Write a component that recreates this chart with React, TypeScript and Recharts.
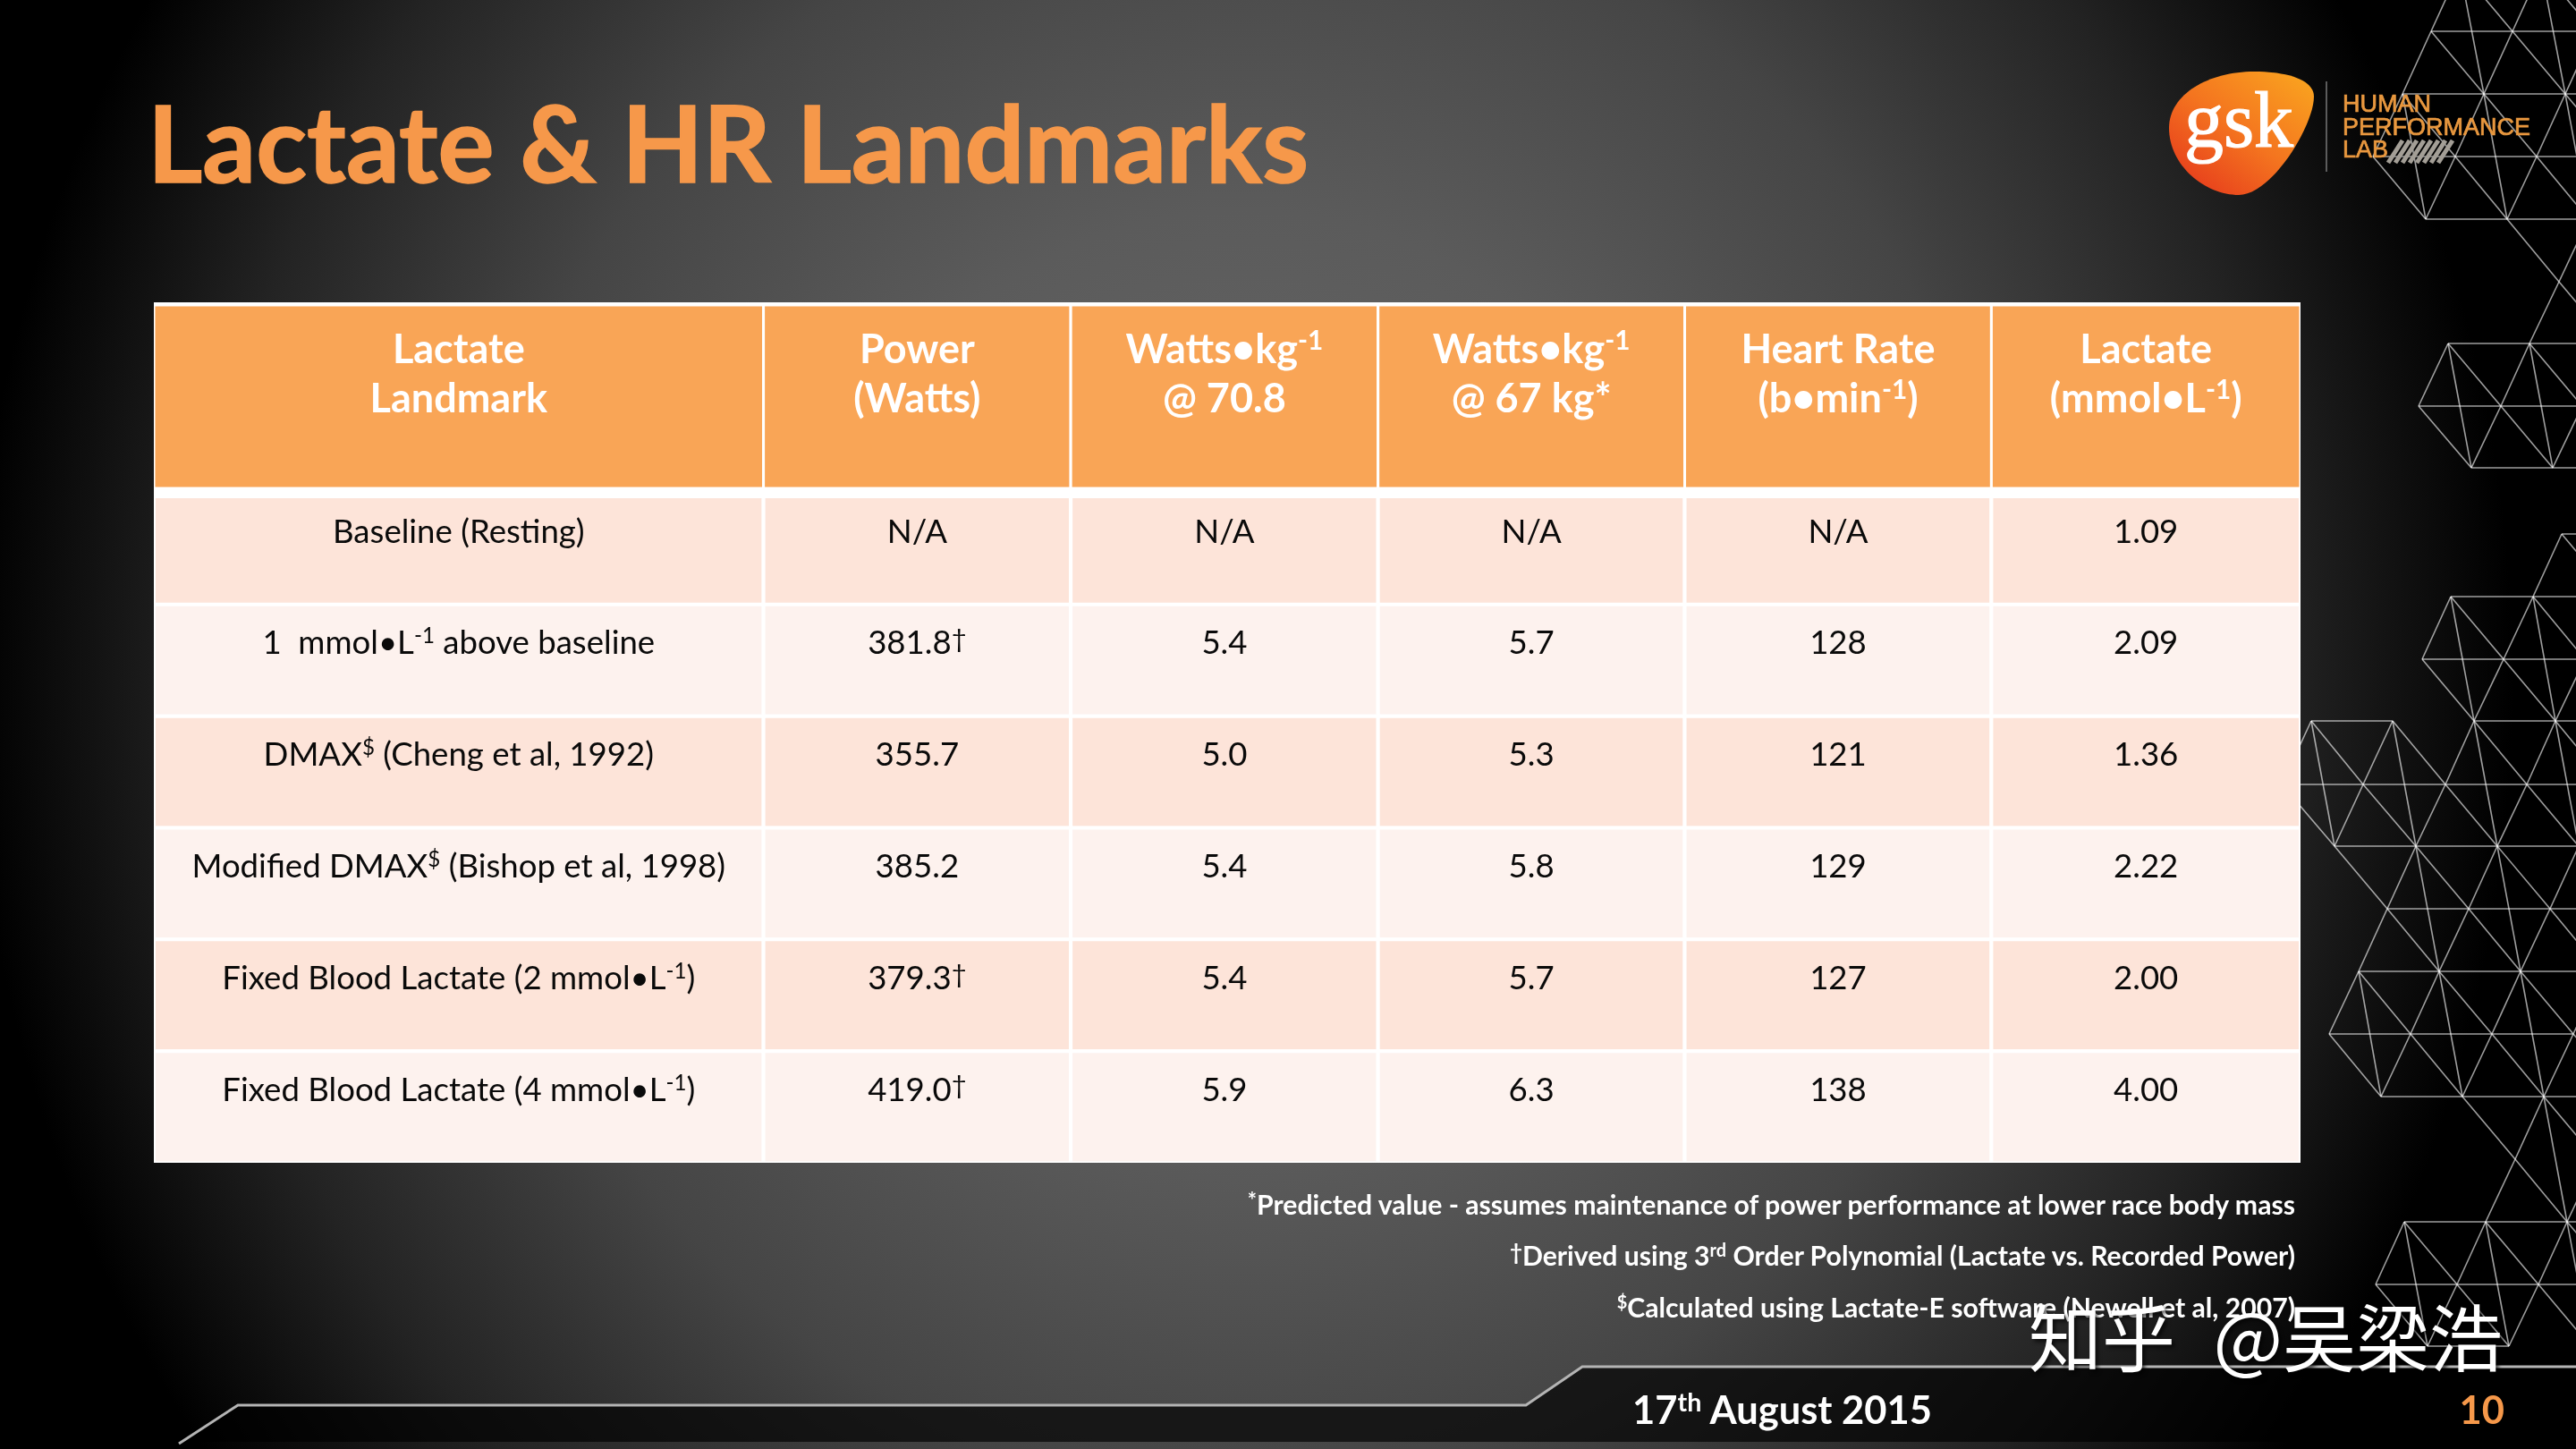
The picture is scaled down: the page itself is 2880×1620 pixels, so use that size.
import React from "react";
import { BarChart, Bar, XAxis, YAxis, Cell, LabelList } from "recharts";

const columnKeys = ["landmark", "power", "wattsLean", "wattsLight", "heartRate", "lactate"];
const columnSpans = [1.988, 1.002, 1.002, 1.0, 1.0, 1.008];

const headerLandmark = ["Lactate", "Landmark"];
const headerPower = ["Power", "(Watts)"];
const headerWattsLean = ["Watts•kg^{-1}", "@ 70.8"];
const headerWattsLight = ["Watts•kg^{-1}", "@ 67 kg*"];
const headerHeartRate = ["Heart Rate", "(b•min^{-1})"];
const headerLactate = ["Lactate", "(mmol•L^{-1})"];

const landmarks = [
  "Baseline (Resting)",
  "1  mmol•L^{-1} above baseline",
  "DMAX^{$} (Cheng et al, 1992)",
  "Modified DMAX^{$} (Bishop et al, 1998)",
  "Fixed Blood Lactate (2 mmol•L^{-1})",
  "Fixed Blood Lactate (4 mmol•L^{-1})",
];
const powers = ["N/A", "381.8^{†}", "355.7", "385.2", "379.3^{†}", "419.0^{†}"];
const wattsLean = ["N/A", "5.4", "5.0", "5.4", "5.4", "5.9"];
const wattsLight = ["N/A", "5.7", "5.3", "5.8", "5.7", "6.3"];
const heartRates = ["N/A", "128", "121", "129", "127", "138"];
const lactates = ["1.09", "2.09", "1.36", "2.22", "2.00", "4.00"];

const footnotes = [
  "^{*}Predicted value - assumes maintenance of power performance at lower race body mass",
  "^{†}Derived using 3^{rd} Order Polynomial (Lactate vs. Recorded Power)",
  "^{$}Calculated using Lactate-E software (Newell et al, 2007)",
];

const bodyColumns = [landmarks, powers, wattsLean, wattsLight, heartRates, lactates];
const headerColumns = [headerLandmark, headerPower, headerWattsLean, headerWattsLight, headerHeartRate, headerLactate];
const spanFields = Object.fromEntries(columnKeys.map((k, c) => ["span_" + k, columnSpans[c]]));
const bodyRows = landmarks.map((_, r) => ({
  row: "r" + r,
  ...spanFields,
  ...Object.fromEntries(columnKeys.map((k, c) => [k, bodyColumns[c][r]])),
}));
const headerRows = [
  {
    row: "header",
    ...spanFields,
    ...Object.fromEntries(columnKeys.map((k, c) => [k, headerColumns[c]])),
  },
];
const totalSpan = columnSpans.reduce((a, b) => a + b, 0);

const SANS = "Lato, sans-serif";
const BODY_SIZE = 36.6;
const HEAD_SIZE = 45;
const NOTE_SIZE = 30.2;
const DATE_SIZE = 43.5;

function rich(src: string, fontSize: number) {
  const parts = src.split(/(\^\{[^}]*\})/).filter((s) => s.length);
  const out: any[] = [];
  let pending = 0;
  parts.forEach((p, i) => {
    if (p.startsWith("^{")) {
      const body = p.slice(2, -1);
      const mark = body === "*" || body === "†";
      const rise = fontSize * (mark ? 0.2 : 0.33);
      out.push(
        <tspan key={i} fontSize={fontSize * (mark ? 0.8 : 0.66)} dy={-rise + pending}>
          {body}
        </tspan>
      );
      pending = rise;
    } else {
      out.push(
        <tspan key={i} dy={pending}>
          {p}
        </tspan>
      );
      pending = 0;
    }
  });
  return out;
}

function BodyCell(p: any) {
  const v = p.viewBox ?? p;
  return (
    <text
      x={v.x + v.width / 2}
      y={v.y + 55.5}
      textAnchor="middle"
      fontFamily={SANS}
      fontSize={BODY_SIZE}
      fill="#0a0a0a"
      style={{ whiteSpace: "pre" }}
    >
      {rich(String(p.value), BODY_SIZE)}
    </text>
  );
}

function HeaderCell(p: any) {
  const v = p.viewBox ?? p;
  const lines: string[] = p.value;
  return (
    <g>
      {lines.map((l, i) => (
        <text
          key={i}
          x={v.x + v.width / 2}
          y={v.y + 64.5 + i * 55}
          textAnchor="middle"
          fontFamily={SANS}
          fontWeight={700}
          fontSize={HEAD_SIZE}
          fill="#ffffff"
        >
          {rich(l, HEAD_SIZE)}
        </text>
      ))}
    </g>
  );
}

type Row = { y: number; xs: number[]; gaps?: number[]; noH?: boolean; steep?: boolean };
const lattice: Row[] = [
  { y: -35, xs: [2750, 2841, 2932], steep: true },
  { y: 35, xs: [2718, 2809, 2900] },
  { y: 105, xs: [2686, 2777, 2868, 2959], steep: true },
  { y: 175, xs: [2653, 2745, 2836, 2927] },
  { y: 245, xs: [2712, 2803, 2894], steep: true },
  { y: 315, xs: [2861, 2952], noH: true },
  { y: 384, xs: [2737, 2828, 2919], steep: true },
  { y: 454, xs: [2704, 2796, 2887] },
  { y: 523, xs: [2763, 2854, 2945] },
  { y: 597, xs: [2864, 2955] },
  { y: 667, xs: [2740, 2832, 2923], steep: true },
  { y: 737, xs: [2708, 2799, 2890] },
  { y: 806, xs: [2584, 2675, 2766, 2857, 2948], gaps: [1], steep: true },
  { y: 877, xs: [2551, 2642, 2734, 2825, 2916] },
  { y: 946, xs: [2610, 2701, 2792, 2883], steep: true },
  { y: 1016, xs: [2669, 2760, 2851, 2942] },
  { y: 1086, xs: [2637, 2727, 2818, 2909], steep: true },
  { y: 1156, xs: [2604, 2695, 2786, 2877] },
  { y: 1226, xs: [2662, 2753, 2844, 2935], steep: true },
  { y: 1296, xs: [2812, 2903], noH: true },
  { y: 1366, xs: [2688, 2779, 2870, 2961], steep: true },
  { y: 1436, xs: [2656, 2747, 2838, 2929] },
  { y: 1505, xs: [2714, 2805, 2896], gaps: [1] },
];

function latticeSegments() {
  const segs: number[][] = [];
  const near = (row: Row | undefined, x: number) => (row ? row.xs.find((v) => Math.abs(v - x) < 12) : undefined);
  lattice.forEach((r, ri) => {
    if (!r.noH) {
      r.xs.slice(1).forEach((x, i) => {
        if (!r.gaps?.includes(i)) segs.push([r.xs[i], r.y, x, r.y]);
      });
    }
    const next = lattice[ri + 1];
    if (!next || next.y - r.y > 72) return;
    r.xs.forEach((x) => {
      const a = near(next, x + 58);
      const b = near(next, x - 32);
      if (a !== undefined) segs.push([x, r.y, a, next.y]);
      if (b !== undefined && !(r.y === 737 && x === 2708)) segs.push([x, r.y, b, next.y]);
      const after = lattice[ri + 2];
      const c = near(after, x + 27);
      if (r.steep && a !== undefined && b !== undefined && c !== undefined && after.y - next.y < 72) {
        segs.push([x, r.y, c, after.y]);
      }
    });
  });
  return segs;
}

const hatch = [0, 1, 2, 3, 4, 5, 6, 7];

function Backdrop() {
  return (
    <svg width={2880} height={1620} style={{ position: "absolute", left: 0, top: 0 }}>
      <defs>
        <linearGradient id="blob" x1="0.1" y1="0.95" x2="0.9" y2="0.05">
          <stop offset="0" stopColor="#e63a1c" />
          <stop offset="0.5" stopColor="#f4741f" />
          <stop offset="1" stopColor="#f9a01f" />
        </linearGradient>
      </defs>
      <g stroke="#ffffff" strokeOpacity={0.62} strokeWidth={1.6}>
        {latticeSegments().map((s, i) => (
          <line key={i} x1={s[0]} y1={s[1]} x2={s[2]} y2={s[3]} />
        ))}
      </g>
      <path
        d="M200 1614 L266 1571 L1706 1571 L1769 1528 L2880 1528 L2880 1612 L200 1612 Z"
        fill="#000000"
        fillOpacity={0.68}
      />
      <path
        d="M200 1614 L266 1571 L1706 1571 L1769 1528 L2880 1528"
        fill="none"
        stroke="#b4b4b4"
        strokeWidth={3}
      />
      <path
        d="M2520 80 C2560 80 2587 90 2587 108 C2587 140 2540 218 2503 218 C2465 218 2425 185 2425 143 C2425 105 2470 80 2520 80 Z"
        fill="url(#blob)"
      />
      <text
        x={2503}
        y={164}
        textAnchor="middle"
        fontFamily="'Liberation Serif', serif"
        fontSize={88}
        fill="#ffffff"
        stroke="#ffffff"
        strokeWidth={1.2}
      >
        gsk
      </text>
      <line x1={2601} y1={91} x2={2601} y2={192} stroke="#777777" strokeWidth={1.5} />
      <g fontFamily="'Liberation Sans', sans-serif" fontSize={27} fill="#e9983f" stroke="#e9983f" strokeWidth={0.7}>
        <text x={2619} y={125}>HUMAN</text>
        <text x={2619} y={151}>PERFORMANCE</text>
        <text x={2619} y={176}>LAB</text>
      </g>
      <g stroke="#a39e96" strokeWidth={5}>
        {hatch.map((h) => (
          <line key={h} x1={2670 + h * 8} y1={182} x2={2686 + h * 8} y2={157} />
        ))}
      </g>
    </svg>
  );
}

function Foreground() {
  return (
    <svg width={2880} height={1620} style={{ position: "absolute", left: 0, top: 0, pointerEvents: "none" }}>
      <text x={165} y={204} fontFamily={SANS} fontWeight={700} fontSize={118} fill="#f6984a" stroke="#f6984a" strokeWidth={1.5}>
        Lactate &amp; HR Landmarks
      </text>
      <g fontFamily={SANS} fontWeight={700} fontSize={NOTE_SIZE} fill="#ffffff" textAnchor="end">
        {footnotes.map((f, i) => (
          <text key={i} x={2566} y={1357.5 + i * 57.5}>
            {rich(f, NOTE_SIZE)}
          </text>
        ))}
      </g>
      <text x={1825} y={1592} fontFamily={SANS} fontWeight={700} fontSize={DATE_SIZE} fill="#ffffff">
        {rich("17^{th} August 2015", DATE_SIZE)}
      </text>
      <text x={2800} y={1592} textAnchor="end" fontFamily={SANS} fontWeight={700} fontSize={DATE_SIZE} fill="#f6984a">
        10
      </text>
      <text
        x={2268}
        y={1527}
        fontFamily="'Noto Sans CJK SC', sans-serif"
        fontSize={82}
        fill="#ffffff"
        style={{ whiteSpace: "pre", filter: "drop-shadow(3px 3px 2px rgba(0,0,0,0.65))" }}
      >
        知乎 <tspan dx={24}>@吴梁浩</tspan>
      </text>
    </svg>
  );
}

export default function App() {
  return (
    <div
      style={{
        position: "fixed",
        left: 0,
        top: 0,
        width: 2880,
        height: 1620,
        overflow: "hidden",
        background:
          "radial-gradient(ellipse 1420px 1500px at 1390px 760px, #6a6a6a 0%, #5b5b5b 35%, #454545 60%, #232323 82%, #000000 100%)",
      }}
    >
      <Backdrop />
      <div style={{ position: "absolute", left: 172, top: 551, background: "#ffffff" }}>
        <BarChart
          width={2400}
          height={749}
          data={bodyRows}
          layout="vertical"
          margin={{ top: 0, right: 0, bottom: 0, left: 0 }}
          barCategoryGap={0}
        >
          <XAxis type="number" domain={[0, totalSpan]} hide />
          <YAxis type="category" dataKey="row" hide />
          {columnKeys.map((k) => (
            <Bar key={k} dataKey={"span_" + k} stackId="t" stroke="#ffffff" strokeWidth={4} isAnimationActive={false}>
              {bodyRows.map((_, r) => (
                <Cell key={r} fill={r % 2 === 0 ? "#fde4d9" : "#fdf2ee"} />
              ))}
              <LabelList dataKey={k} content={(p: any) => <BodyCell {...p} />} />
            </Bar>
          ))}
        </BarChart>
      </div>
      <div style={{ position: "absolute", left: 172, top: 338, background: "#ffffff" }}>
        <BarChart
          width={2400}
          height={219}
          data={headerRows}
          layout="vertical"
          margin={{ top: 3, right: 0, bottom: 11, left: 0 }}
          barCategoryGap={0}
        >
          <XAxis type="number" domain={[0, totalSpan]} hide />
          <YAxis type="category" dataKey="row" hide />
          {columnKeys.map((k) => (
            <Bar key={k} dataKey={"span_" + k} stackId="t" fill="#f9a556" stroke="#ffffff" strokeWidth={3} isAnimationActive={false}>
              <LabelList dataKey={k} content={(p: any) => <HeaderCell {...p} />} />
            </Bar>
          ))}
        </BarChart>
      </div>
      <Foreground />
    </div>
  );
}
